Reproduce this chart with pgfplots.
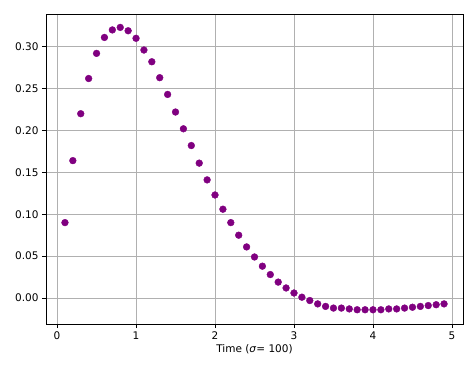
\documentclass[border=0pt]{standalone}
\usepackage{pgfplots}
\pgfplotsset{compat=1.18}
\usepackage{fontspec}
\setmainfont{DejaVu Sans}
\begin{document}
\begin{tikzpicture}
\begin{axis}[
  at={(0,0)}, anchor=south west,
  scale only axis,
  width=417bp, height=310bp,
  xmin=-0.14, xmax=5.14,
  ymin=-0.031, ymax=0.339,
  xtick={0,1,2,3,4,5},
  ytick={0,0.05,0.10,0.15,0.20,0.25,0.30},
  yticklabel style={/pgf/number format/.cd,fixed,fixed zerofill,precision=2},
  /pgf/number format/assume math mode=true,
  ticklabel style={font=\fontsize{10.5bp}{12bp}\selectfont},
  tick align=outside,
  tick pos=left,
  major tick length=4bp,
  tick style={black, line width=0.8bp},
  axis line style={line width=0.8bp},
  grid=major,
  grid style={color=black!31, line width=0.8bp},
  xlabel={Time (\textit{σ}= 100)},
  xlabel style={font=\fontsize{10.5bp}{12bp}\selectfont, yshift=2bp},
]
\addplot[only marks, mark=*, mark size=3.4bp, color={rgb,255:red,128;green,0;blue,128}] coordinates {
(0.1,0.090) (0.2,0.164) (0.3,0.220) (0.4,0.262) (0.5,0.292)
(0.6,0.311) (0.7,0.320) (0.8,0.323) (0.9,0.319) (1.0,0.310)
(1.1,0.296) (1.2,0.282) (1.3,0.263) (1.4,0.243) (1.5,0.222)
(1.6,0.202) (1.7,0.182) (1.8,0.161) (1.9,0.141) (2.0,0.123)
(2.1,0.106) (2.2,0.090) (2.3,0.075) (2.4,0.061) (2.5,0.049)
(2.6,0.038) (2.7,0.028) (2.8,0.019) (2.9,0.012) (3.0,0.006)
(3.1,0.001) (3.2,-0.003) (3.3,-0.007) (3.4,-0.010) (3.5,-0.012)
(3.6,-0.012) (3.7,-0.013) (3.8,-0.014) (3.9,-0.014) (4.0,-0.014)
(4.1,-0.014) (4.2,-0.013) (4.3,-0.013) (4.4,-0.012) (4.5,-0.011)
(4.6,-0.010) (4.7,-0.009) (4.8,-0.008) (4.9,-0.007)
};
\end{axis}
\useasboundingbox (-46bp,-44bp) rectangle (428bp,324bp);
\end{tikzpicture}
\end{document}
